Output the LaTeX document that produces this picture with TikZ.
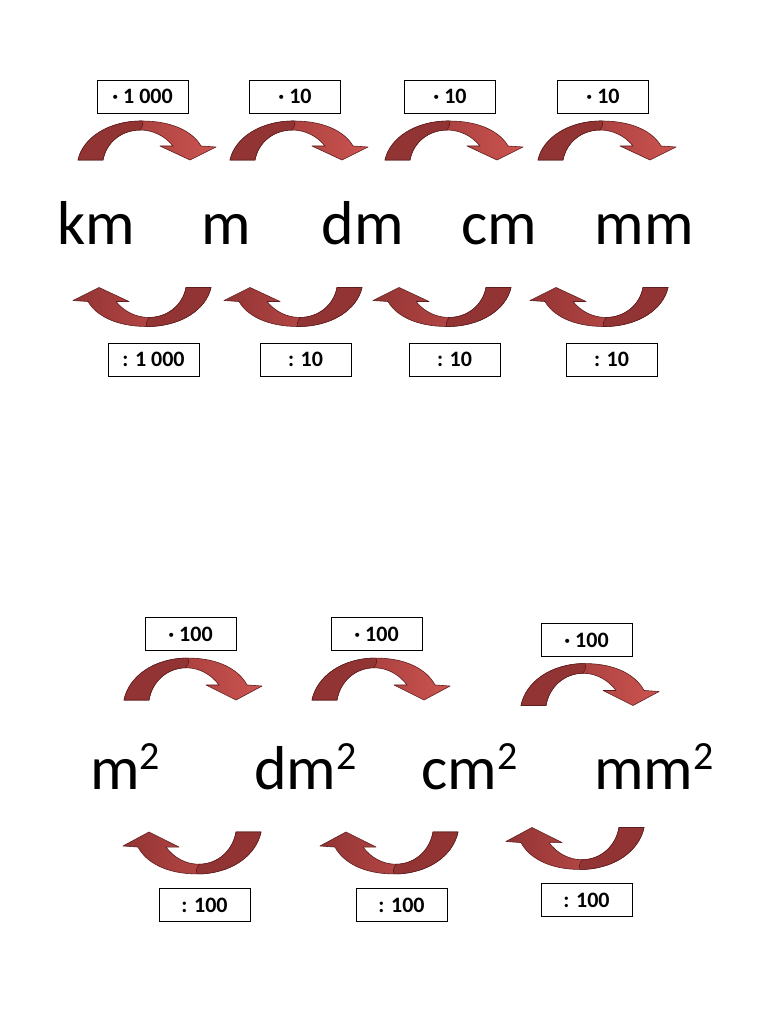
\documentclass[tikz,border=0pt]{standalone}
\usepackage{fontspec}
\setmainfont{Carlito}
\definecolor{arrowdark}{RGB}{146,52,52}
\definecolor{arrowlight}{RGB}{204,84,80}
\definecolor{arrowedge}{RGB}{95,30,30}
\newcommand{\sqr}{\raisebox{0.32em}{\fontsize{40}{40}\selectfont 2}}
\tikzset{
  labelbox/.style={draw, line width=0.8pt, minimum width=91pt, minimum height=33pt, inner sep=0pt, font=\bfseries\fontsize{22}{22}\selectfont},
  unit/.style={anchor=base, inner sep=0pt, font=\fontsize{62}{62}\selectfont},
  bend arrow/.pic={
    \path[left color=arrowdark, right color=arrowlight, draw=arrowedge, line width=0.6pt, line join=round]
      (-69,20) .. controls (-64,-2) and (-39,-19) .. (-5,-19)
      .. controls (26,-19) and (46,-8) .. (54,6) -- (69,7) -- (43,20) -- (13,6) -- (26,6)
      .. controls (18,-4) and (6,-10) .. (-7,-10)
      .. controls (-26,-10) and (-41,3) .. (-44,20) -- cycle;
    \path[fill=arrowdark, draw=arrowedge, line width=0.6pt, line join=round]
      (-69,20) .. controls (-64,-2) and (-39,-19) .. (-5,-19)
      .. controls (-4,-15) .. (-7,-10)
      .. controls (-26,-10) and (-41,3) .. (-44,20) -- cycle;
  }
}
\begin{document}
\begin{tikzpicture}[x=1pt,y=-1pt]
\useasboundingbox[fill=white] (0,0) rectangle (768,1024);

% ---- length units ----
\node[labelbox] (b1) at (142.5,96.5) {· 1 000};
\node[labelbox] (b2) at (295,96.5) {· 10};
\node[labelbox] (b3) at (450,96.5) {· 10};
\node[labelbox] (b4) at (603,96.5) {· 10};

\pic at (147,140) {bend arrow};
\pic at (299,140) {bend arrow};
\pic at (454,140) {bend arrow};
\pic at (607,140) {bend arrow};

\node[unit] (km) at (96.5,244) {km};
\node[unit] (m) at (226.5,244) {m};
\node[unit] (dm) at (363,244) {dm};
\node[unit] (cm) at (499.5,244) {cm};
\node[unit] (mm) at (644.5,244) {mm};

\pic[rotate=180] at (142,307.5) {bend arrow};
\pic[rotate=180] at (293,307.5) {bend arrow};
\pic[rotate=180] at (442,307.5) {bend arrow};
\pic[rotate=180] at (599,307.5) {bend arrow};

\node[labelbox] (d1) at (153.5,359.5) {: 1 000};
\node[labelbox] (d2) at (305.5,359.5) {: 10};
\node[labelbox] (d3) at (454.5,359.5) {: 10};
\node[labelbox] (d4) at (611.5,359.5) {: 10};

% ---- area units ----
\node[labelbox] (e1) at (190.5,634) {· 100};
\node[labelbox] (e2) at (376.5,634) {· 100};
\node[labelbox] (e3) at (586.5,640) {· 100};

\pic[yscale=1.075] at (193,678.5) {bend arrow};
\pic[yscale=1.075] at (381,678.5) {bend arrow};
\pic[yscale=1.075] at (590,684) {bend arrow};

\node[unit] (m2) at (125,789) {m\sqr};
\node[unit] (dm2) at (305.5,789) {dm\sqr};
\node[unit] (cm2) at (469.5,789) {cm\sqr};
\node[unit] (mm2) at (654,789) {mm\sqr};

\pic[rotate=180, yscale=1.075] at (192,853.5) {bend arrow};
\pic[rotate=180, yscale=1.075] at (389,853.5) {bend arrow};
\pic[rotate=180, yscale=1.075] at (575,849) {bend arrow};

\node[labelbox] (f1) at (204.5,905) {: 100};
\node[labelbox] (f2) at (401.5,905) {: 100};
\node[labelbox] (f3) at (586.5,900) {: 100};
\end{tikzpicture}
\end{document}
